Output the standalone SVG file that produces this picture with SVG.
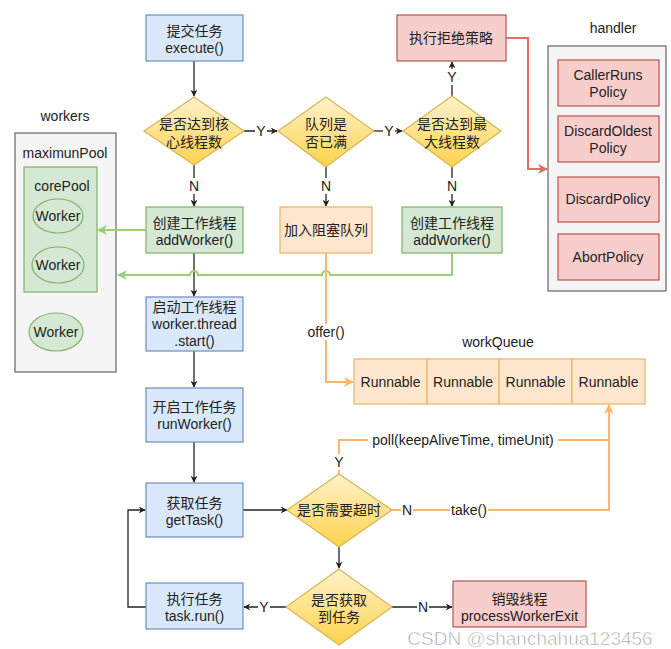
<svg xmlns="http://www.w3.org/2000/svg" width="671" height="649" viewBox="0 0 671 649">
<style>
.t{font-family:"Liberation Sans","Noto Sans CJK SC",sans-serif;font-size:14px;fill:#222;text-anchor:middle}
.blue{fill:#dae8fc;stroke:#6c8ebf;stroke-width:1.2}
.green{fill:#d5e8d4;stroke:#82b366;stroke-width:1.2}
.orange{fill:#ffe6cc;stroke:#e8b56a;stroke-width:1.2}
.red{fill:#f8cecc;stroke:#b85450;stroke-width:1.2}
.dia{fill:url(#yg);stroke:#d6b656;stroke-width:1.2}
.cont{fill:#f5f5f5;stroke:#666;stroke-width:1.2}
.ell{fill:#d5e8d4;stroke:#82b366;stroke-width:1.2}
.cb{fill:none;stroke:#222;stroke-width:1.3}
.cg{fill:none;stroke:#97d077;stroke-width:2}
.co{fill:none;stroke:#ffb570;stroke-width:2}
.cr{fill:none;stroke:#ea6b66;stroke-width:2}
.lb{fill:#fff}
</style>
<defs>
<linearGradient id="yg" x1="0" y1="0" x2="0" y2="1">
<stop offset="0" stop-color="#fff2cc"/>
<stop offset="1" stop-color="#ffd24d"/>
</linearGradient>
<marker id="ab" viewBox="0 0 10 10" refX="9" refY="5" markerWidth="7" markerHeight="7" markerUnits="userSpaceOnUse" orient="auto"><path d="M0,0 L10,5 L0,10 L3,5 z" fill="#222"/></marker>
<marker id="ag" viewBox="0 0 10 10" refX="9" refY="5" markerWidth="10" markerHeight="10" markerUnits="userSpaceOnUse" orient="auto"><path d="M0,0 L10,5 L0,10 L3,5 z" fill="#97d077"/></marker>
<marker id="ao" viewBox="0 0 10 10" refX="9" refY="5" markerWidth="10" markerHeight="10" markerUnits="userSpaceOnUse" orient="auto"><path d="M0,0 L10,5 L0,10 L3,5 z" fill="#ffb570"/></marker>
<marker id="ar" viewBox="0 0 10 10" refX="9" refY="5" markerWidth="10" markerHeight="10" markerUnits="userSpaceOnUse" orient="auto"><path d="M0,0 L10,5 L0,10 L3,5 z" fill="#ea6b66"/></marker>
</defs>
<rect width="671" height="649" fill="#fff"/>

<g id="workers">
<text class="t" x="65" y="121">workers</text>
<rect class="cont" x="15" y="133" width="101" height="239"/>
<text class="t" x="65" y="158">maximunPool</text>
<rect class="green" x="24" y="167" width="73" height="125"/>
<text class="t" x="62" y="191">corePool</text>
<ellipse class="ell" cx="58" cy="216" rx="25" ry="17"/>
<text class="t" x="58" y="221">Worker</text>
<ellipse class="ell" cx="58" cy="265" rx="26" ry="18"/>
<text class="t" x="58" y="270">Worker</text>
<ellipse class="ell" cx="56" cy="332" rx="27" ry="19"/>
<text class="t" x="56" y="337">Worker</text>
</g>

<g id="handler">
<text class="t" x="613" y="33">handler</text>
<rect class="cont" x="548" y="46" width="118" height="245"/>
<rect class="red" x="558" y="60" width="101" height="46"/>
<text class="t" x="608" y="80">CallerRuns</text>
<text class="t" x="608" y="97">Policy</text>
<rect class="red" x="558" y="116" width="101" height="46"/>
<text class="t" x="608" y="136">DiscardOldest</text>
<text class="t" x="608" y="153">Policy</text>
<rect class="red" x="558" y="177" width="101" height="45"/>
<text class="t" x="608" y="204">DiscardPolicy</text>
<rect class="red" x="558" y="234" width="101" height="46"/>
<text class="t" x="608" y="262">AbortPolicy</text>
</g>

<g id="connectors">
<path class="cb" d="M194,61 V96" marker-end="url(#ab)"/>
<path class="cb" d="M244,131 H277" marker-end="url(#ab)"/>
<path class="cb" d="M374,131 H402" marker-end="url(#ab)"/>
<path class="cb" d="M194,165 V206" marker-end="url(#ab)"/>
<path class="cb" d="M326,167 V206" marker-end="url(#ab)"/>
<path class="cb" d="M452,167 V206" marker-end="url(#ab)"/>
<path class="cb" d="M452,96 V62" marker-end="url(#ab)"/>
<path class="cb" d="M194,253 V296" marker-end="url(#ab)"/>
<path class="cb" d="M194,351 V387" marker-end="url(#ab)"/>
<path class="cb" d="M194,442 V482" marker-end="url(#ab)"/>
<path class="cb" d="M243,510 H287" marker-end="url(#ab)"/>
<path class="cb" d="M339,547 V568" marker-end="url(#ab)"/>
<path class="cb" d="M286,607 H244" marker-end="url(#ab)"/>
<path class="cb" d="M392,607 H452" marker-end="url(#ab)"/>
<path class="cb" d="M146,607 H128 V510 H145" marker-end="url(#ab)"/>
<path class="cg" d="M146,230 H98" marker-end="url(#ag)"/>
<path class="cg" d="M452,253 V275 H330 A4,4 0 0 0 322,275 H198 A4,4 0 0 0 190,275 H118" marker-end="url(#ag)"/>
<path class="co" d="M326,253 V382 H353" marker-end="url(#ao)"/>
<path class="co" d="M339,474 V440 H609 V405" marker-end="url(#ao)"/>
<path class="co" d="M392,510 H609 V440"/>
<path class="cr" d="M506,38 H528 V169 H547" marker-end="url(#ar)"/>
<rect class="lb" x="255" y="123" width="12" height="16"/>
<text class="t" x="261" y="136">Y</text>
<rect class="lb" x="383" y="123" width="12" height="16"/>
<text class="t" x="389" y="136">Y</text>
<rect class="lb" x="188" y="178" width="12" height="16"/>
<text class="t" x="194" y="191">N</text>
<rect class="lb" x="320" y="178" width="12" height="16"/>
<text class="t" x="326" y="191">N</text>
<rect class="lb" x="446" y="178" width="12" height="16"/>
<text class="t" x="452" y="191">N</text>
<rect class="lb" x="446" y="69" width="12" height="16"/>
<text class="t" x="452" y="82">Y</text>
<rect class="lb" x="258" y="599" width="12" height="16"/>
<text class="t" x="264" y="612">Y</text>
<rect class="lb" x="417" y="599" width="12" height="16"/>
<text class="t" x="423" y="612">N</text>
<rect class="lb" x="305" y="324" width="42" height="16"/>
<text class="t" x="326" y="337">offer()</text>
<rect class="lb" x="333" y="454" width="12" height="16"/>
<text class="t" x="339" y="467">Y</text>
<rect class="lb" x="368" y="432" width="190" height="16"/>
<text class="t" x="463" y="445">poll(keepAliveTime, timeUnit)</text>
<rect class="lb" x="401" y="502" width="12" height="16"/>
<text class="t" x="407" y="515">N</text>
<rect class="lb" x="450" y="502" width="38" height="16"/>
<text class="t" x="469" y="515">take()</text>
</g>

<g id="submit">
<rect class="blue" x="146" y="15" width="97" height="46"/>
<text class="t" x="194.5" y="36">提交任务</text>
<text class="t" x="194.5" y="53">execute()</text>
</g>
<g id="dCore">
<polygon class="dia" points="194,97 244,131 194,165 144,131"/>
<text class="t" x="194" y="129">是否达到核</text>
<text class="t" x="194" y="147">心线程数</text>
</g>
<g id="dQueue">
<polygon class="dia" points="326,97 374,131 326,167 278,131"/>
<text class="t" x="326" y="129">队列是</text>
<text class="t" x="326" y="147">否已满</text>
</g>
<g id="dMax">
<polygon class="dia" points="452,96 501,131 452,167 403,131"/>
<text class="t" x="452" y="129">是否达到最</text>
<text class="t" x="452" y="147">大线程数</text>
</g>
<g id="reject">
<rect class="red" x="397" y="15" width="109" height="46"/>
<text class="t" x="451" y="43">执行拒绝策略</text>
</g>
<g id="add1">
<rect class="green" x="146" y="207" width="97" height="46"/>
<text class="t" x="194.5" y="228">创建工作线程</text>
<text class="t" x="194.5" y="245">addWorker()</text>
</g>
<g id="enqueue">
<rect class="orange" x="280" y="207" width="92" height="46"/>
<text class="t" x="326" y="235">加入阻塞队列</text>
</g>
<g id="add2">
<rect class="green" x="402" y="207" width="100" height="46"/>
<text class="t" x="452" y="228">创建工作线程</text>
<text class="t" x="452" y="245">addWorker()</text>
</g>
<g id="start">
<rect class="blue" x="146" y="297" width="97" height="54"/>
<text class="t" x="194.5" y="312">启动工作线程</text>
<text class="t" x="194.5" y="329">worker.thread</text>
<text class="t" x="194.5" y="346">.start()</text>
</g>
<g id="runWorker">
<rect class="blue" x="146" y="388" width="97" height="54"/>
<text class="t" x="194.5" y="412">开启工作任务</text>
<text class="t" x="194.5" y="429">runWorker()</text>
</g>
<g id="getTask">
<rect class="blue" x="146" y="483" width="97" height="54"/>
<text class="t" x="194.5" y="508">获取任务</text>
<text class="t" x="194.5" y="525">getTask()</text>
</g>
<g id="dTimeout">
<polygon class="dia" points="339,474 392,510 339,547 287,510"/>
<text class="t" x="339" y="515">是否需要超时</text>
</g>
<g id="dGot">
<polygon class="dia" points="339,569 392,607 339,645 286,607"/>
<text class="t" x="339" y="605">是否获取</text>
<text class="t" x="339" y="622">到任务</text>
</g>
<g id="execTask">
<rect class="blue" x="146" y="583" width="97" height="46"/>
<text class="t" x="194.5" y="604">执行任务</text>
<text class="t" x="194.5" y="621">task.run()</text>
</g>
<g id="destroy">
<rect class="red" x="453" y="581" width="133" height="46"/>
<text class="t" x="519.5" y="604">销毁线程</text>
<text class="t" x="519.5" y="621">processWorkerExit</text>
</g>
<g id="workQueue">
<text class="t" x="498" y="347">workQueue</text>
<rect class="orange" x="354" y="359" width="73" height="45"/>
<rect class="orange" x="427" y="359" width="72" height="45"/>
<rect class="orange" x="499" y="359" width="73" height="45"/>
<rect class="orange" x="572" y="359" width="73" height="45"/>
<text class="t" x="390.5" y="387">Runnable</text>
<text class="t" x="463" y="387">Runnable</text>
<text class="t" x="535.5" y="387">Runnable</text>
<text class="t" x="608.5" y="387">Runnable</text>
</g>
<text x="530" y="645" style="font-family:'Liberation Sans',sans-serif;font-size:19px;fill:#9a9a9a;stroke:#fff;stroke-width:0.6;text-anchor:middle;opacity:0.9">CSDN @shanchahua123456</text>
</svg>
